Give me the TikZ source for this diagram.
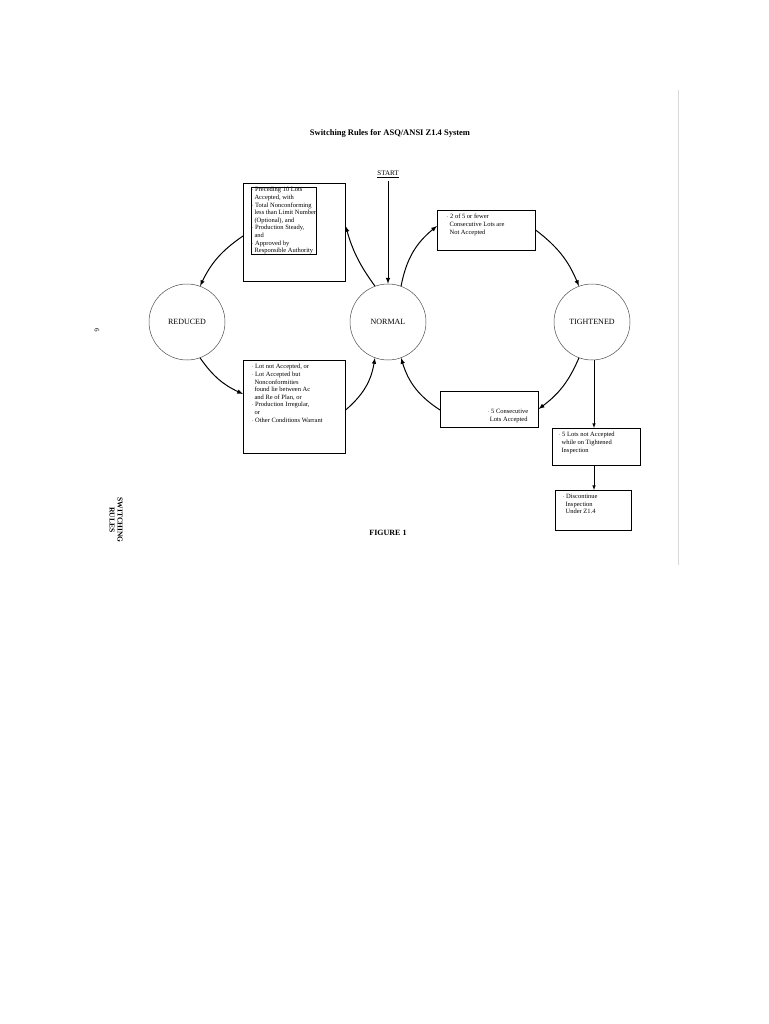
\documentclass[tikz,border=0pt]{standalone}
\usepackage{fontspec}
\setmainfont{Liberation Serif}
\begin{document}
\begin{tikzpicture}[x=1pt,y=-1pt,
  st/.style={draw,circle,minimum size=76pt,font=\fontsize{8}{9}\selectfont,line width=0.5pt,draw=black!70},
  rb/.style={draw,line width=0.6pt,anchor=north west,align=left,font=\fontsize{6.5}{7.6}\selectfont,inner sep=0pt},
  ar/.style={-latex,line width=1pt}]
\useasboundingbox (0,0) rectangle (768,1024);
\draw[black!15] (678,90) -- (678,565);
\node[font=\bfseries\fontsize{8.5}{10}\selectfont] (title) at (390,133) {Switching Rules for ASQ/ANSI Z1.4 System};
\node[st] (red) at (187,322) {REDUCED};
\node[st] (nor) at (388,322) {NORMAL};
\node[st] (tig) at (592,322) {TIGHTENED};
\node[font=\fontsize{7}{8}\selectfont] (start) at (388,174) {\underline{START}};
\node[rb,minimum width=102pt,minimum height=98pt] (b1) at (243,183) {};
\node[rb,anchor=north west] at (251,187) {$\cdot$ Preceding 10 Lots\\\ \ Accepted, with\\$\cdot$ Total Nonconforming\\\ \ less than Limit Number\\\ \ (Optional), and\\$\cdot$ Production Steady,\\\ \ and\\$\cdot$ Approved by\\\ \ Responsible Authority};
\node[rb,minimum width=98pt,minimum height=40pt] (b2) at (437,210) {};
\node[rb,draw=none] at (446,214) {$\cdot$ 2 of 5 or fewer\\\ \ Consecutive Lots are\\\ \ Not Accepted};
\node[rb,minimum width=102pt,minimum height=93pt] (b3) at (243,360) {};
\node[rb,draw=none] at (251,364) {$\cdot$ Lot not Accepted, or\\$\cdot$ Lot Accepted but\\\ \ Nonconformities\\\ \ found lie between Ac\\\ \ and Re of Plan, or\\$\cdot$ Production Irregular,\\\ \ or\\$\cdot$ Other Conditions Warrant};
\node[rb,minimum width=98pt,minimum height=36pt] (b4) at (440,391) {};
\node[rb,draw=none,align=center] at (489,409) {\hspace*{-2pt}$\cdot$ 5 Consecutive\\Lots Accepted};
\node[rb,minimum width=88pt,minimum height=37pt] (b5) at (552,428) {};
\node[rb,draw=none] at (558,432) {$\cdot$ 5 Lots not Accepted\\\ \ while on Tightened\\\ \ Inspection};
\node[rb,minimum width=76pt,minimum height=40pt] (b6) at (555,490) {};
\node[rb,draw=none] at (562,494) {$\cdot$ Discontinue\\\ \ Inspection\\\ \ Under Z1.4};
\node[font=\bfseries\fontsize{8}{9}\selectfont] (fig) at (388,533) {FIGURE 1};
\node[rotate=-90,font=\bfseries\fontsize{7.5}{8}\selectfont,align=center] (sw) at (116,520) {SWITCHING\\RULES};
\node[rotate=-90,font=\fontsize{7}{8}\selectfont] (pg) at (97,330) {6};
\draw[ar] (start.south) -- (nor.north);
\draw[ar] (nor.110) to[bend left=10] (b1.east|-0,226);
\draw[ar] (b1.west|-0,236) to[bend right=15] (red.70);
\draw[ar] (red.-70) to[bend right=15] (b3.west|-0,394);
\draw[ar] (b3.east|-0,410) to[bend right=20] (nor.-110);
\draw[ar] (nor.70) to[bend left=20] (b2.west|-0,226);
\draw[ar] (b2.east|-0,230) to[bend left=15] (tig.110);
\draw[ar] (tig.-110) to[bend left=15] (b4.east|-0,409);
\draw[ar] (b4.west|-0,410) to[bend left=20] (nor.-70);
\draw[ar,line width=0.6pt] (tig.south-|594,0) -- (b5.north-|594,0);
\draw[ar,line width=0.6pt] (b5.south-|594,0) -- (b6.north-|594,0);
\end{tikzpicture}
\end{document}
